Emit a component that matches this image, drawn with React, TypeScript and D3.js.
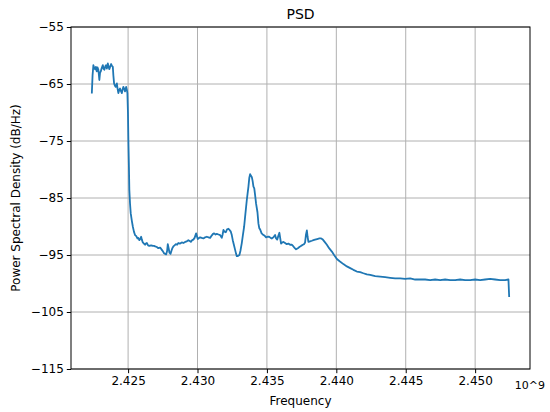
import { useEffect, useRef } from "react";
import * as d3 from "d3";

// frequency in MHz
const freqMHz = [
  2422.39, 2422.44, 2422.5, 2422.56, 2422.62, 2422.68, 2422.74, 2422.8, 2422.86, 2422.93,
  2422.98, 2423.03, 2423.1, 2423.18, 2423.23, 2423.29, 2423.36, 2423.41, 2423.47, 2423.54,
  2423.6, 2423.65, 2423.72, 2423.78, 2423.83, 2423.9, 2423.94, 2423.99, 2424.05, 2424.11,
  2424.19, 2424.24, 2424.3, 2424.37, 2424.42, 2424.48, 2424.55, 2424.6, 2424.66, 2424.73,
  2424.78, 2424.86, 2424.91, 2424.95, 2424.99, 2425.02, 2425.06, 2425.09, 2425.14, 2425.19,
  2425.27, 2425.34, 2425.42, 2425.5, 2425.59, 2425.67, 2425.74, 2425.81, 2425.88, 2425.94,
  2425.99, 2426.06, 2426.14, 2426.22, 2426.28, 2426.35, 2426.44, 2426.53, 2426.66, 2426.78,
  2426.87, 2426.95, 2427.07, 2427.18, 2427.31, 2427.43, 2427.52, 2427.59, 2427.67, 2427.74,
  2427.81, 2427.86, 2427.92, 2427.98, 2428.06, 2428.13, 2428.19, 2428.26, 2428.35, 2428.44,
  2428.53, 2428.62, 2428.75, 2428.87, 2428.98, 2429.11, 2429.23, 2429.34, 2429.47, 2429.52,
  2429.61, 2429.7, 2429.79, 2429.9, 2429.97, 2430.02, 2430.12, 2430.19, 2430.3, 2430.43,
  2430.55, 2430.67, 2430.79, 2430.91, 2431.02, 2431.12, 2431.2, 2431.3, 2431.39, 2431.51,
  2431.63, 2431.75, 2431.81, 2431.87, 2431.94, 2432.04, 2432.13, 2432.23, 2432.31, 2432.4,
  2432.47, 2432.54, 2432.62, 2432.71, 2432.78, 2432.83, 2432.89, 2432.96, 2433.02, 2433.09,
  2433.19, 2433.27, 2433.36, 2433.45, 2433.55, 2433.61, 2433.67, 2433.73, 2433.79, 2433.85,
  2433.91, 2433.97, 2434.03, 2434.09, 2434.15, 2434.22, 2434.32, 2434.39, 2434.45, 2434.51,
  2434.62, 2434.75, 2434.83, 2434.94, 2435.05, 2435.16, 2435.27, 2435.35, 2435.47, 2435.59,
  2435.66, 2435.74, 2435.83, 2435.9, 2435.97, 2436.02, 2436.11, 2436.19, 2436.31, 2436.43,
  2436.55, 2436.67, 2436.79, 2436.91, 2437.01, 2437.1, 2437.23, 2437.34, 2437.46, 2437.59,
  2437.68, 2437.75, 2437.81, 2437.88, 2437.93, 2437.99, 2438.11, 2438.24, 2438.35, 2438.47,
  2438.62, 2438.78, 2438.91, 2439.03, 2439.16, 2439.32, 2439.48, 2439.68, 2439.84, 2440.04,
  2440.24, 2440.51, 2440.76, 2441.0, 2441.23, 2441.48, 2441.72, 2441.95, 2442.2, 2442.44,
  2442.8, 2443.16, 2443.52, 2443.88, 2444.24, 2444.6, 2444.96, 2445.32, 2445.68, 2446.04,
  2446.4, 2446.76, 2447.12, 2447.48, 2447.84, 2448.2, 2448.56, 2448.92, 2449.28, 2449.64,
  2450.0, 2450.36, 2450.72, 2451.08, 2451.44, 2451.8, 2452.16, 2452.4, 2452.45,
];

// power spectral density in dB/Hz
const psdDb = [
  -66.5, -63.5, -61.7, -62.2, -62.4, -62.0, -62.8, -62.1, -62.5, -64.3,
  -63.0, -62.8, -62.2, -61.7, -62.3, -62.5, -61.9, -61.7, -62.3, -61.4,
  -62.0, -62.4, -61.9, -61.5, -61.8, -62.0, -63.5, -64.9, -65.3, -65.5,
  -64.9, -65.8, -66.6, -66.0, -65.8, -66.2, -66.6, -66.0, -65.5, -65.9,
  -66.3, -65.5, -66.0, -66.6, -70.0, -74.8, -79.5, -83.6, -86.0, -87.7,
  -89.0, -90.0, -90.9, -91.5, -91.7, -92.1, -92.0, -92.4, -92.2, -91.8,
  -92.3, -92.8, -93.0, -93.2, -93.0, -92.9, -93.3, -93.4, -93.3, -93.4,
  -93.4, -93.5, -93.6, -93.8, -93.7, -94.1, -94.4, -94.7, -94.8, -94.9,
  -94.3, -93.1, -93.8, -94.6, -94.8, -94.2, -93.8, -93.5, -93.3, -93.1,
  -93.2, -92.9, -93.0, -92.8, -92.9, -92.7, -92.6, -92.4, -92.6, -92.7,
  -92.4, -92.3, -92.0, -91.2, -91.8, -92.2, -92.0, -91.9, -92.0, -92.1,
  -91.9, -91.8, -91.9, -92.0, -91.6, -91.3, -91.2, -91.4, -91.3, -91.4,
  -91.5, -92.0, -91.4, -90.6, -90.9, -91.0, -90.5, -90.4, -90.6, -90.9,
  -91.5, -92.4, -93.2, -94.1, -94.8, -95.2, -95.2, -95.1, -95.0, -94.3,
  -92.9, -91.5, -90.0, -87.8, -85.4, -84.2, -83.0, -81.5, -80.8, -81.1,
  -81.3, -82.0, -83.0, -83.3, -84.5, -86.0, -87.5, -89.5, -90.3, -90.5,
  -91.2, -91.5, -91.6, -91.9, -91.8, -91.8, -92.0, -92.1, -91.9, -91.5,
  -92.1, -92.3, -91.6, -91.1, -92.2, -93.0, -92.8, -92.7, -92.9, -93.1,
  -93.0, -93.2, -93.2, -93.5, -93.8, -94.0, -93.8, -93.6, -93.4, -93.2,
  -93.1, -92.8, -91.5, -90.7, -91.8, -92.7, -92.6, -92.5, -92.4, -92.3,
  -92.2, -92.1, -92.1, -92.3, -92.7, -93.2, -93.8, -94.4, -95.0, -95.7,
  -96.1, -96.6, -97.0, -97.3, -97.6, -97.9, -98.0, -98.2, -98.4, -98.5,
  -98.7, -98.8, -98.9, -99.0, -99.1, -99.1, -99.2, -99.1, -99.3, -99.3,
  -99.3, -99.4, -99.3, -99.4, -99.3, -99.4, -99.4, -99.3, -99.4, -99.4,
  -99.3, -99.4, -99.3, -99.2, -99.3, -99.4, -99.4, -99.3, -102.2,
];

const xTicks = [2425, 2430, 2435, 2440, 2445, 2450];
const yTicks = [-55, -65, -75, -85, -95, -105, -115];

const W = 550;
const H = 412;
const m = { left: 71, right: 20, top: 27, bottom: 43 };

const App = () => {
  const svgRef = useRef(null);

  useEffect(() => {
    const svg = d3.select(svgRef.current);
    svg.selectAll("*").remove();

    const data = freqMHz.map((f, i) => ({ f, p: psdDb[i] }));

    // matplotlib style 5% margin on x
    const [fMin, fMax] = d3.extent(freqMHz) as [number, number];
    const pad = (fMax - fMin) * 0.05;
    const x = d3
      .scaleLinear()
      .domain([fMin - pad, fMax + pad])
      .range([m.left, W - m.right]);
    const y = d3
      .scaleLinear()
      .domain([-115, -55])
      .range([H - m.bottom, m.top]);

    const font = "DejaVu Sans, sans-serif";

    // grid
    svg
      .append("g")
      .selectAll("line")
      .data(xTicks)
      .join("line")
      .attr("x1", (d) => x(d))
      .attr("x2", (d) => x(d))
      .attr("y1", m.top)
      .attr("y2", H - m.bottom)
      .attr("stroke", "#b0b0b0")
      .attr("stroke-width", 1);
    svg
      .append("g")
      .selectAll("line")
      .data(yTicks)
      .join("line")
      .attr("x1", m.left)
      .attr("x2", W - m.right)
      .attr("y1", (d) => y(d))
      .attr("y2", (d) => y(d))
      .attr("stroke", "#b0b0b0")
      .attr("stroke-width", 1);

    // the line
    const line = d3
      .line<{ f: number; p: number }>()
      .x((d) => x(d.f))
      .y((d) => y(d.p));
    svg
      .append("path")
      .datum(data)
      .attr("d", line)
      .attr("fill", "none")
      .attr("stroke", "#1f77b4")
      .attr("stroke-width", 1.8)
      .attr("stroke-linejoin", "round")
      .attr("stroke-linecap", "square");

    // axes
    const xAxis = d3
      .axisBottom(x)
      .tickValues(xTicks)
      .tickSize(4.2)
      .tickPadding(3)
      .tickFormat((d) => d3.format(".3f")(+d / 1000));
    const yAxis = d3
      .axisLeft(y)
      .tickValues(yTicks)
      .tickSize(4.2)
      .tickPadding(3)
      .tickFormat((d) => String(d).replace("-", "\u2212"));

    const gx = svg
      .append("g")
      .attr("transform", `translate(0,${H - m.bottom})`)
      .call(xAxis);
    const gy = svg.append("g").attr("transform", `translate(${m.left},0)`).call(yAxis);
    [gx, gy].forEach((g) => {
      g.select(".domain").remove();
      g.selectAll("line").attr("stroke", "#000").attr("stroke-width", 1);
      g.selectAll("text")
        .attr("fill", "#000")
        .style("font-family", font)
        .style("font-size", "12px");
    });

    // frame
    svg
      .append("rect")
      .attr("x", m.left)
      .attr("y", m.top)
      .attr("width", W - m.left - m.right)
      .attr("height", H - m.top - m.bottom)
      .attr("fill", "none")
      .attr("stroke", "#000")
      .attr("stroke-width", 1);

    // texts
    svg
      .append("text")
      .attr("x", (m.left + W - m.right) / 2)
      .attr("y", 19)
      .attr("text-anchor", "middle")
      .style("font-family", font)
      .style("font-size", "14px")
      .text("PSD");
    svg
      .append("text")
      .attr("x", (m.left + W - m.right) / 2)
      .attr("y", 405)
      .attr("text-anchor", "middle")
      .style("font-family", font)
      .style("font-size", "12px")
      .text("Frequency");
    svg
      .append("text")
      .attr("transform", `translate(20,${(m.top + H - m.bottom) / 2}) rotate(-90)`)
      .attr("text-anchor", "middle")
      .style("font-family", font)
      .style("font-size", "12px")
      .text("Power Spectral Density (dB/Hz)");
    svg
      .append("text")
      .attr("x", W - 5)
      .attr("y", 389)
      .attr("text-anchor", "end")
      .style("font-family", font)
      .style("font-size", "11px")
      .text("10^9");
  }, []);

  return (
    <svg
      ref={svgRef}
      width={W}
      height={H}
      style={{ position: "absolute", left: 0, top: 0, background: "#fff" }}
    ></svg>
  );
};

export default App;
